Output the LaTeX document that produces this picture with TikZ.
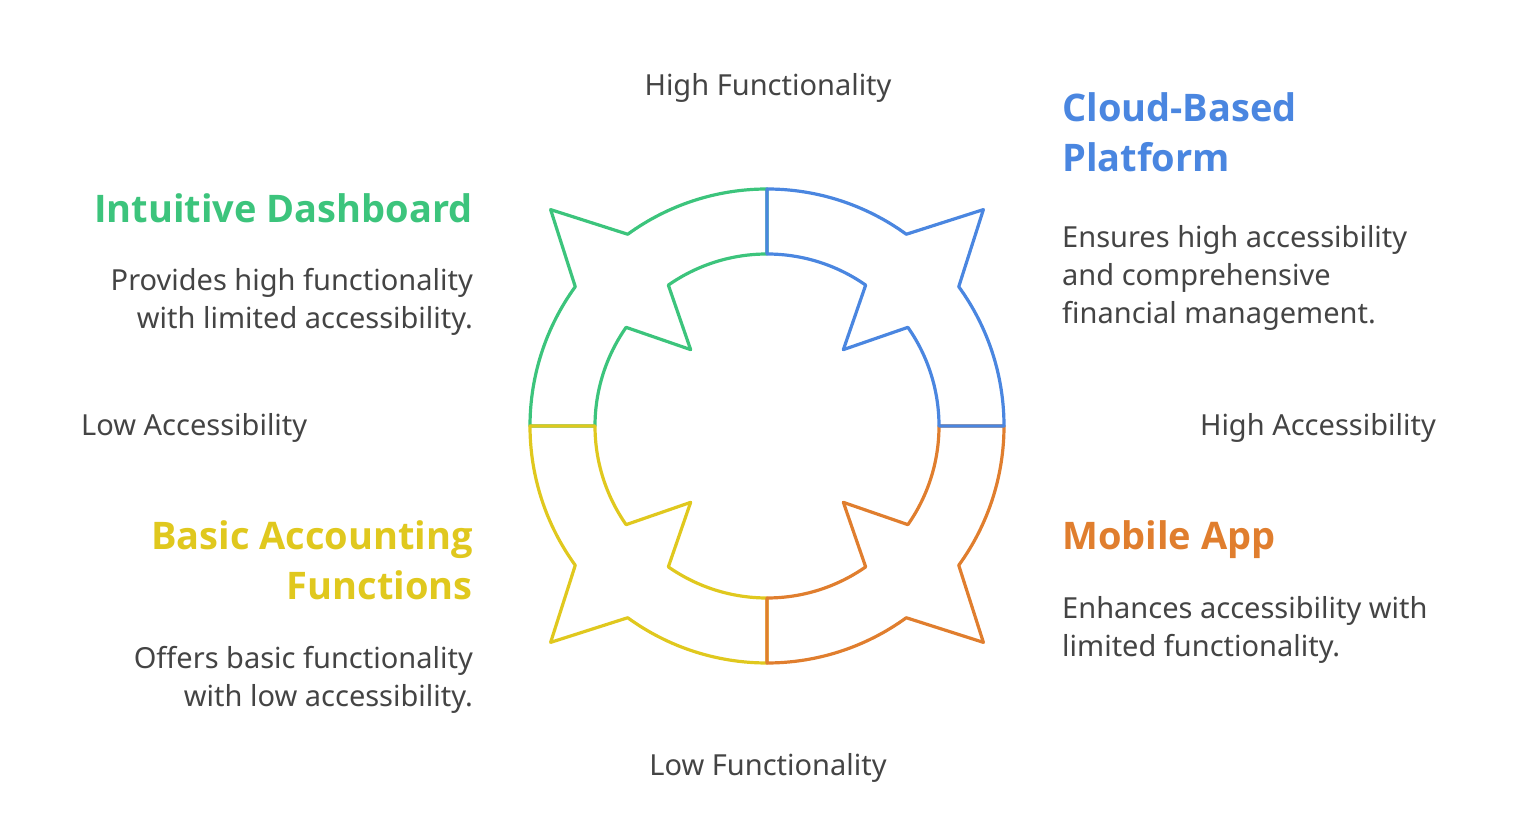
\documentclass[tikz,border=0pt]{standalone}
\usepackage{fontspec}
\setmainfont{Noto Sans}
\newfontfamily\ttlfont{Open Sans}[Scale=1.0]
\begin{document}
\begin{tikzpicture}[x=1pt,y=1pt,
  seg/.style={line width=3.2pt,line join=round},
  ttl/.style={inner sep=0pt,font=\ttlfont\fontsize{38}{50}\selectfont\bfseries},
  bod/.style={inner sep=0pt,text=txt,font=\fontsize{29}{38}\selectfont},
  ax/.style={inner sep=0pt,text=txt,font=\fontsize{29}{34}\selectfont}]
\definecolor{cb}{HTML}{4A86E0}
\definecolor{cg}{HTML}{3CC47C}
\definecolor{cy}{HTML}{E0C81E}
\definecolor{co}{HTML}{E07E2E}
\definecolor{txt}{HTML}{444444}
\useasboundingbox (0,0) rectangle (1536,824);
\coordinate (c) at (767,398);
\foreach \a/\col in {90/cg,180/cy,270/co,0/cb}{
  \draw[seg,\col,shift={(c)}] (\a:237) arc[start angle=\a,end angle=\a+36,radius=237]
    -- (\a+45:306) -- (\a+54:237) arc[start angle=\a+54,end angle=\a+90,radius=237]
    -- (\a+90:172) arc[start angle=\a+90,end angle=\a+55,radius=172]
    -- (\a+45:108) -- (\a+35:172) arc[start angle=\a+35,end angle=\a,radius=172] -- cycle;
}
\node[ax,anchor=center] (hf) at (768,824-88) {High Functionality};
\node[ax,anchor=center] (lf) at (768,824-768) {Low Functionality};
\node[ax,anchor=west] (la) at (81,824-428) {Low Accessibility};
\node[ax,anchor=east] (ha) at (1436,824-428) {High Accessibility};
\node[ttl,text=cb,anchor=north west,align=left] (t1) at (1062,824-92) {Cloud-Based\\Platform};
\node[bod,anchor=north west,align=left] (b1) at (1062,824-225) {Ensures high accessibility\\and comprehensive\\financial management.};
\node[ttl,text=cg,anchor=north east,align=right] (t2) at (473,824-193) {Intuitive Dashboard};
\node[bod,anchor=north east,align=right] (b2) at (473,824-268) {Provides high functionality\\with limited accessibility.};
\node[ttl,text=cy,anchor=north east,align=right] (t3) at (473,824-520) {Basic Accounting\\Functions};
\node[bod,anchor=north east,align=right] (b3) at (473,824-646) {Offers basic functionality\\with low accessibility.};
\node[ttl,text=co,anchor=north west,align=left] (t4) at (1062,824-520) {Mobile App};
\node[bod,anchor=north west,align=left] (b4) at (1062,824-596) {Enhances accessibility with\\limited functionality.};
\end{tikzpicture}
\end{document}
